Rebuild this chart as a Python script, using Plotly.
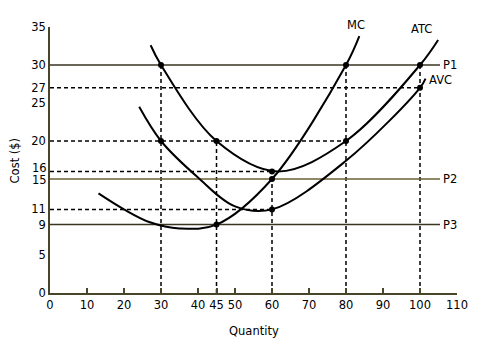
import plotly.graph_objects as go

# Curves
mc_x = [13.1, 20, 27, 35, 45, 60, 80, 83.6]
mc_y = [13.1, 11.0, 9.3, 8.5, 9, 15, 30, 33.8]
atc_x = [27.2, 30, 45, 61.5, 80, 100, 104.9]
atc_y = [32.6, 30, 20, 16, 20, 30, 33.3]
avc_x = [24.1, 30, 40, 50, 60, 80, 100, 101.5]
avc_y = [24.5, 20, 15.2, 11.4, 11, 17.4, 27, 28.2]

# Price lines
price_names = ["P1", "P2", "P3"]
price_vals = [30, 15, 9]
price_colors = ["#3a3520", "#6a6232", "#3a3520"]
price_end = 105.4

# Points of interest
dot_x = [30, 80, 100, 100, 30, 45, 80, 60, 60, 60, 45]
dot_y = [30, 30, 30, 27, 20, 20, 20, 16, 15, 11, 9]

# Dashed guides
vdash_x = [30, 45, 60, 80, 100]
vdash_top = [30, 20, 16, 30, 30]
hdash_y = [27, 20, 16, 11]
hdash_end = [100, 80, 60, 60]

xtick_vals = [0, 10, 20, 30, 40, 45, 50, 60, 70, 80, 90, 100, 110]
ytick_vals = [0, 5, 9, 11, 15, 16, 20, 25, 27, 30, 35]
# close-together tick labels nudged apart (pixels), as in the reference
ytick_nudge = {16: 3, 15: -1}

axis_color = "#4a4428"
font = "DejaVu Sans"
fs = 11.5

fig = go.Figure()

for x, top in zip(vdash_x, vdash_top):
    fig.add_trace(go.Scatter(x=[x, x], y=[0, top], mode="lines",
                             line=dict(color="black", width=1.5, dash="4px,3px"),
                             hoverinfo="skip", showlegend=False))
for y, end in zip(hdash_y, hdash_end):
    fig.add_trace(go.Scatter(x=[0, end], y=[y, y], mode="lines",
                             line=dict(color="black", width=1.5, dash="4px,3px"),
                             hoverinfo="skip", showlegend=False))
for name, v, c in zip(price_names, price_vals, price_colors):
    fig.add_trace(go.Scatter(x=[0, price_end], y=[v, v], mode="lines",
                             line=dict(color=c, width=1.5),
                             hoverinfo="skip", showlegend=False))
    fig.add_annotation(x=price_end, y=v, text=name, showarrow=False,
                       xanchor="left", yanchor="middle", xshift=1,
                       font=dict(family=font, size=fs, color="black"))

for xs, ys in [(mc_x, mc_y), (atc_x, atc_y), (avc_x, avc_y)]:
    fig.add_trace(go.Scatter(x=xs, y=ys, mode="lines",
                             line=dict(color="black", width=2, shape="spline", smoothing=1.0),
                             showlegend=False, cliponaxis=False))

fig.add_trace(go.Scatter(x=dot_x, y=dot_y, mode="markers",
                         marker=dict(color="black", size=6),
                         showlegend=False, cliponaxis=False))

fig.add_annotation(x=mc_x[-1] - 1, y=mc_y[-1], text="MC", showarrow=False,
                   yanchor="bottom", yshift=2, font=dict(family=font, size=fs, color="black"))
fig.add_annotation(x=atc_x[-1] - 4.5, y=atc_y[-1], text="ATC", showarrow=False,
                   yanchor="bottom", yshift=2, font=dict(family=font, size=fs, color="black"))
fig.add_annotation(x=avc_x[-1] + 0.5, y=avc_y[-1], text="AVC", showarrow=False,
                   xanchor="left", yanchor="middle", yshift=-1, font=dict(family=font, size=fs, color="black"))

# nudged y tick labels
for v, dy in ytick_nudge.items():
    fig.add_annotation(x=0, xref="paper", y=v, yref="y", text=str(v), showarrow=False,
                       xanchor="right", yanchor="middle", xshift=-1, yshift=dy,
                       font=dict(family=font, size=fs, color="black"))

fig.add_annotation(x=0.5, y=-0.11, xref="paper", yref="paper", text="Quantity",
                   showarrow=False, yanchor="top", font=dict(family=font, size=fs, color="black"))
fig.add_annotation(x=-0.085, y=0.5, xref="paper", yref="paper", text="Cost ($)",
                   showarrow=False, textangle=-90, xanchor="center",
                   font=dict(family=font, size=fs, color="black"))

fig.update_xaxes(range=[0, 110], showgrid=False, zeroline=False, showline=True,
                 linecolor=axis_color, linewidth=1.5, ticks="inside", ticklen=5,
                 tickcolor=axis_color, tickwidth=1.5,
                 tickvals=xtick_vals, ticktext=[str(v) for v in xtick_vals],
                 tickfont=dict(family=font, size=fs, color="black"))
fig.update_yaxes(range=[0, 35], showgrid=False, zeroline=False, showline=True,
                 linecolor=axis_color, linewidth=1.5, ticks="",
                 tickvals=ytick_vals,
                 ticktext=["" if v in ytick_nudge else str(v) for v in ytick_vals],
                 tickfont=dict(family=font, size=fs, color="black"))

# page body has an 8px margin: compensate so the plot area lands where the reference has it
fig.update_layout(width=487, height=354, margin=dict(l=42, r=38, t=16, b=69),
                  plot_bgcolor="white", paper_bgcolor="white")

fig.write_html("out.html")
